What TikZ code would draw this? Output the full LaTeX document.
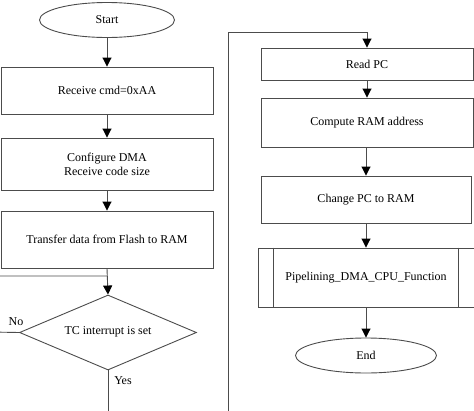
\documentclass[tikz,border=0pt]{standalone}
\usepackage{fontspec}
\setmainfont{Liberation Serif}
\usetikzlibrary{shapes.geometric,arrows.meta}
\tikzset{
  ln/.style={draw=black!70, line width=0.9pt},
  box/.style={ln, rectangle, fill=white, font=\fontsize{12}{14}\selectfont, align=center, inner sep=0pt},
  term/.style={ln, ellipse, fill=white, font=\fontsize{12}{14}\selectfont, inner sep=0pt},
  dec/.style={ln, diamond, fill=white, font=\fontsize{12}{14}\selectfont, inner sep=0pt},
  arr/.style={ln, -{Triangle[width=9pt,length=9pt,fill=black,color=black]}},
  lbl/.style={font=\fontsize{12}{14}\selectfont, inner sep=0pt}
}
\begin{document}
\begin{tikzpicture}[x=1pt,y=-1pt]
\useasboundingbox (0,0) rectangle (474,410);
\clip (0,0) rectangle (474,410);
% left column
\node[term, minimum width=135pt, minimum height=35pt] (start) at (107,20) {Start};
\node[box, minimum width=212pt, minimum height=47pt] (recv) at (107,90.5) {Receive cmd=0xAA};
\node[box, minimum width=212pt, minimum height=52pt] (conf) at (107,164) {Configure DMA\\Receive code size};
\node[box, minimum width=212pt, minimum height=57pt] (xfer) at (107,239.5) {Transfer data from Flash to RAM};
\node[dec, minimum width=177pt, minimum height=75pt] (tc) at (108,332.5) {};
\node[lbl] (tctext) at (108,332) {TC interrupt is set};
\node[lbl] (no) at (16,322) {No};
\node[lbl] (yes) at (123,381) {Yes};
% right column
\node[box, minimum width=212pt, minimum height=32pt] (read) at (367,64) {Read PC};
\node[box, minimum width=212pt, minimum height=49pt] (comp) at (367,122.5) {Compute RAM address};
\node[box, minimum width=210pt, minimum height=47pt] (chg) at (366,199.5) {Change PC to RAM};
\node[box, minimum width=216pt, minimum height=59pt] (pipe) at (366,277.5) {Pipelining\_DMA\_CPU\_Function};
\draw[ln] ([xshift=16pt]pipe.north west) -- ([xshift=16pt]pipe.south west);
\draw[ln] ([xshift=-16pt]pipe.north east) -- ([xshift=-16pt]pipe.south east);
\node[term, minimum width=141pt, minimum height=35pt] (end) at (366,355.5) {End};
% coordinates
\coordinate (j) at (107,276);
\coordinate (nol) at (-10,332);
\coordinate (nolu) at (-10,276);
\coordinate (yb) at (108,425);
\coordinate (yr) at (228,425);
\coordinate (yt) at (228,32);
\coordinate (rt) at (367,32);
% connectors
\draw[arr] (start.south) -- (recv.north);
\draw[arr] (recv.south) -- (conf.north);
\draw[arr] (conf.south) -- (xfer.north);
\draw[arr] (xfer.south) -- (tc.north);
\draw[ln] (tc.west) -- (nol) -- (nolu) -- (j);
\draw[ln] (tc.south) -- (yb) -- (yr) -- (yt) -- (rt);
\draw[arr] (rt) -- (read.north);
\draw[arr] (read.south) -- (comp.north);
\draw[arr] ([xshift=-1pt]comp.south) -- (chg.north);
\draw[arr] (chg.south) -- (pipe.north);
\draw[arr] (pipe.south) -- (end.north);
\end{tikzpicture}
\end{document}
